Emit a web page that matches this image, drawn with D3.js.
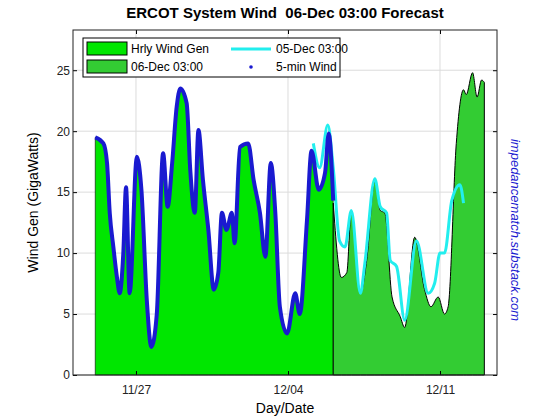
<!DOCTYPE html>
<html><head><meta charset="utf-8">
<script src="https://cdn.jsdelivr.net/npm/d3@7"></script>
<style>body{margin:0;background:#fff;font-family:"Liberation Sans",Arial,sans-serif}</style>
</head><body><div id="chart"></div>
<script>
// hours since 11/25 00:00
const actualHrs = [3,12,16,19,23,27,30,34,37,41,49,54,60,65,71,78,83,88,93,97,104,108,113,117,122,128,134,139,143,148,154,157,163,172,178,185,191,197,202,207,215,224,229,237,242,250,257,261,266];
const actualVals = [19.5,19,17.4,13.3,10.5,8,6.7,10,15.4,6.7,17.9,15.2,6.1,2.3,5,18.2,13.8,17.4,22,23.5,22.3,16.8,13.3,20.1,16,11.9,7,8.4,13.3,11.9,13.3,10.8,18.7,19,16,13.3,9.7,17.4,13.3,5.6,3.4,6.7,5,12.7,18.4,15.2,16.6,19.8,14.3];
const fcstHrs = [266,275,281,286,296,303,312,318,323,331,340,345,356,367,374,382,389,393,402,410,413,420,425,430,433];
const fcstVals = [14.1,8,8.4,13.5,6.7,9.4,16,13.5,13.3,6.4,4.8,3.9,11.3,7,5.6,6.4,5,5.6,19,23.4,23,24.8,22.8,24.2,24];
const prevHrs = [244,251,260,266,273,279,286,296,301,312,318,325,329,336,345,358,371,378,384,389,397,406,410];
const prevVals = [19,17,20.5,17,11,10.5,13.5,6.7,9.2,16.1,13.8,13.3,9.4,8.9,4.5,11,6.7,7.5,10,10,14.3,15.6,14.1];
const xTicks = [48,216,384];
const xTickLabels = ["11/27","12/04","12/11"];
const yTicks = [0,5,10,15,20,25];

const margin = {top: 30, right: 63, bottom: 45, left: 73},
    width = 560 - margin.left - margin.right,
    height = 420 - margin.top - margin.bottom;

const svg = d3.select("#chart").append("svg")
    .attr("width", 560).attr("height", 420)
    .append("g")
    .attr("transform", "translate(" + margin.left + "," + margin.top + ")");

const x = d3.scaleLinear().domain([-21.6, 447]).range([0, width]);
const y = d3.scaleLinear().domain([0, 28.3]).range([height, 0]);

// grid
svg.selectAll(".gx").data(xTicks).join("line")
    .attr("x1", d => x(d)).attr("x2", d => x(d)).attr("y1", 0).attr("y2", height)
    .attr("stroke", "#dcdcdc");
svg.selectAll(".gy").data(yTicks).join("line")
    .attr("x1", 0).attr("x2", width).attr("y1", d => y(d)).attr("y2", d => y(d))
    .attr("stroke", "#dcdcdc");

const zip = (h, v) => h.map((d, i) => [d, v[i]]);
const area = d3.area().curve(d3.curveMonotoneX).x(d => x(d[0])).y0(y(0)).y1(d => y(d[1]));
const line = d3.line().curve(d3.curveMonotoneX).x(d => x(d[0])).y(d => y(d[1]));

svg.append("path").datum(zip(actualHrs, actualVals))
    .attr("d", area).attr("fill", "#00e600").attr("stroke", "#000").attr("stroke-width", 0.6);
svg.append("path").datum(zip(fcstHrs, fcstVals))
    .attr("d", area).attr("fill", "#33cc33").attr("stroke", "#000").attr("stroke-width", 1);
svg.append("path").datum(zip(prevHrs, prevVals))
    .attr("d", line).attr("fill", "none").attr("stroke", "#22eeee").attr("stroke-width", 3);
svg.append("path").datum(zip(actualHrs, actualVals))
    .attr("d", line).attr("fill", "none").attr("stroke", "#1a1ad0").attr("stroke-width", 4);

// axes
const xAxis = svg.append("g").attr("transform", "translate(0," + height + ")")
    .call(d3.axisBottom(x).tickValues(xTicks).tickFormat((d, i) => xTickLabels[i]).tickSizeInner(-4).tickSizeOuter(0));
const yAxis = svg.append("g")
    .call(d3.axisLeft(y).tickValues(yTicks).tickSizeInner(-4).tickSizeOuter(0));
svg.append("g").call(d3.axisRight(y).tickValues(yTicks).tickFormat("").tickSizeInner(-4).tickSizeOuter(0))
    .attr("transform", "translate(" + width + ",0)");
svg.append("g").call(d3.axisTop(x).tickValues(xTicks).tickFormat("").tickSizeInner(-4).tickSizeOuter(0));
svg.selectAll(".domain").remove();
svg.selectAll(".tick text").attr("font-size", 12).attr("fill", "#222").attr("font-family", "Liberation Sans, Arial");
xAxis.selectAll(".tick text").attr("dy", "1.3em");
svg.append("rect").attr("width", width).attr("height", height)
    .attr("fill", "none").attr("stroke", "#222");

// labels
svg.append("text").attr("x", width / 2).attr("y", -12).attr("text-anchor", "middle")
    .attr("font-size", 15).attr("font-weight", "bold").style("white-space", "pre")
    .text("ERCOT System Wind  06-Dec 03:00 Forecast");
svg.append("text").attr("x", width / 2).attr("y", height + 38).attr("text-anchor", "middle")
    .attr("font-size", 14).text("Day/Date");
svg.append("text").attr("transform", "rotate(-90)").attr("x", -height / 2).attr("y", -35)
    .attr("text-anchor", "middle").attr("font-size", 14).text("Wind Gen (GigaWatts)");
svg.append("text").attr("transform", "rotate(90)").attr("x", 200).attr("y", -width - 14)
    .attr("text-anchor", "middle").attr("font-size", 13).attr("font-style", "italic")
    .attr("fill", "#1a1ad0").text("impedancematch.substack.com");

// legend
const lg = svg.append("g").attr("transform", "translate(10,8)");
lg.append("rect").attr("width", 257).attr("height", 39).attr("fill", "#fff").attr("stroke", "#000");
lg.append("rect").attr("x", 4).attr("y", 4).attr("width", 40).attr("height", 13).attr("fill", "#00e600").attr("stroke", "#000");
lg.append("rect").attr("x", 4).attr("y", 22).attr("width", 40).attr("height", 13).attr("fill", "#33cc33").attr("stroke", "#000");
lg.append("line").attr("x1", 148).attr("x2", 188).attr("y1", 11).attr("y2", 11).attr("stroke", "#22eeee").attr("stroke-width", 3);
lg.append("circle").attr("cx", 168).attr("cy", 29).attr("r", 1.8).attr("fill", "#1a1ad0");
const lt = [["Hrly Wind Gen", 48, 15], ["06-Dec 03:00", 48, 33], ["05-Dec 03:00", 193, 15], ["5-min Wind", 193, 33]];
lg.selectAll(".lt").data(lt).join("text").attr("x", d => d[1]).attr("y", d => d[2])
    .attr("font-size", 12).text(d => d[0]);
</script></body></html>
